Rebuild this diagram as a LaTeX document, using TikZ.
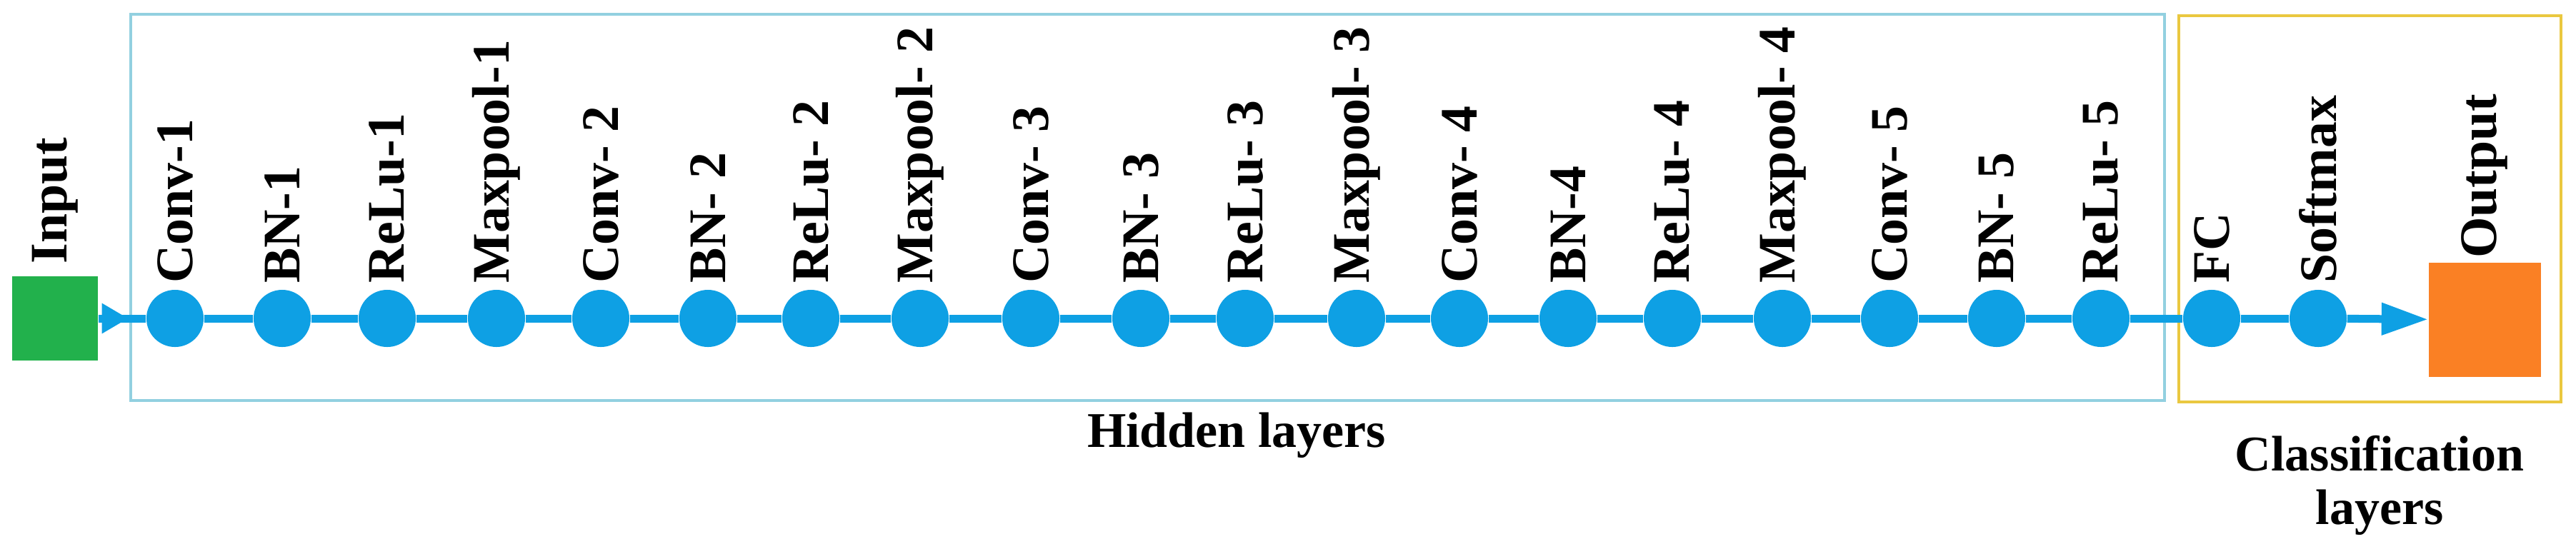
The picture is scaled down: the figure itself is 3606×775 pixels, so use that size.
\documentclass[tikz,border=0pt]{standalone}
\usepackage{fontspec}
\setmainfont{Liberation Serif}
\usepackage{tikz}
\usetikzlibrary{arrows.meta,decorations.markings}
\definecolor{layerblue}{RGB}{14,160,228}
\definecolor{hidblue}{RGB}{146,208,224}
\definecolor{clsyellow}{RGB}{234,200,64}
\definecolor{ingreen}{RGB}{34,177,76}
\definecolor{outorange}{RGB}{250,128,36}
\tikzset{layer/.style={circle,fill=layerblue,minimum size=0.8cm,inner sep=0pt}}
\tikzset{lbl/.style={rotate=90,anchor=west,inner sep=0.08cm,font=\fontsize{21}{23}\selectfont\bfseries}}
\tikzset{flow/.style={layerblue,line width=0.11cm}}
\tikzset{midarrow/.style={decoration={markings,mark=at position 0.63 with {\arrow{Triangle[length=0.37cm,width=0.4cm]}}},postaction={decorate}}}
\tikzset{group/.style={line width=0.04cm}}
\tikzset{grouplbl/.style={align=center,font=\fontsize{19.9}{21.3}\selectfont\bfseries}}

\begin{document}
\begin{tikzpicture}[x=0.01cm,y=-0.01cm]
    \useasboundingbox (0,0) rectangle (3606,775);
    % group frames
    \draw[hidblue,group] (183,20) rectangle (3030,561);
    \draw[clsyellow,group] (3050,22) rectangle (3585,563);
    \node[grouplbl] (hid) at (1731,610) {Hidden layers};
    \node[grouplbl] (cls) at (3331,680) {Classification\\layers};
    % input and output
    \node[fill=ingreen,minimum width=1.2cm,minimum height=1.17cm,inner sep=0pt] (in) at (77,446) {};
    \node[fill=outorange,minimum width=1.57cm,minimum height=1.6cm,inner sep=0pt] (out) at (3478,448) {};
    \node[lbl,inner sep=0.17cm] (tin) at (in.north) {Input};
    \node[lbl,inner sep=0.05cm] (tout) at (out.north) {Output};
    % layers
    \node[layer] (c1) at (245,446) {};
    \node[layer] (c2) at (395,446) {};
    \node[layer] (c3) at (542,446) {};
    \node[layer] (c4) at (695,446) {};
    \node[layer] (c5) at (841,446) {};
    \node[layer] (c6) at (991,446) {};
    \node[layer] (c7) at (1135,446) {};
    \node[layer] (c8) at (1288,446) {};
    \node[layer] (c9) at (1443,446) {};
    \node[layer] (c10) at (1597,446) {};
    \node[layer] (c11) at (1743,446) {};
    \node[layer] (c12) at (1899,446) {};
    \node[layer] (c13) at (2043,446) {};
    \node[layer] (c14) at (2195,446) {};
    \node[layer] (c15) at (2341,446) {};
    \node[layer] (c16) at (2495,446) {};
    \node[layer] (c17) at (2645,446) {};
    \node[layer] (c18) at (2795,446) {};
    \node[layer] (c19) at (2941,446) {};
    \node[layer] (c20) at (3096,446) {};
    \node[layer] (c21) at (3245,446) {};
    \node[lbl] (t1) at (c1.north) {Conv-1};
    \node[lbl] (t2) at (c2.north) {BN-1};
    \node[lbl] (t3) at (c3.north) {ReLu-1};
    \node[lbl] (t4) at (c4.north) {Maxpool-1};
    \node[lbl] (t5) at (c5.north) {Conv- 2};
    \node[lbl] (t6) at (c6.north) {BN- 2};
    \node[lbl] (t7) at (c7.north) {ReLu- 2};
    \node[lbl] (t8) at (c8.north) {Maxpool- 2};
    \node[lbl] (t9) at (c9.north) {Conv- 3};
    \node[lbl] (t10) at (c10.north) {BN- 3};
    \node[lbl] (t11) at (c11.north) {ReLu- 3};
    \node[lbl] (t12) at (c12.north) {Maxpool- 3};
    \node[lbl] (t13) at (c13.north) {Conv- 4};
    \node[lbl] (t14) at (c14.north) {BN-4};
    \node[lbl] (t15) at (c15.north) {ReLu- 4};
    \node[lbl] (t16) at (c16.north) {Maxpool- 4};
    \node[lbl] (t17) at (c17.north) {Conv- 5};
    \node[lbl] (t18) at (c18.north) {BN- 5};
    \node[lbl] (t19) at (c19.north) {ReLu- 5};
    \node[lbl] (t20) at (c20.north) {FC};
    \node[lbl] (t21) at (c21.north) {Softmax};
    % connections
    \draw[flow,midarrow] (in) -- (c1);
    \draw[flow] (c1) -- (c2) -- (c3) -- (c4) -- (c5) -- (c6) -- (c7) -- (c8) -- (c9) -- (c10) -- (c11)
      -- (c12) -- (c13) -- (c14) -- (c15) -- (c16) -- (c17) -- (c18) -- (c19) -- (c20) -- (c21);
    \draw[flow,-{Triangle[length=0.65cm,width=0.43cm]}] (c21) -- (out);
  \end{tikzpicture}
\end{document}
